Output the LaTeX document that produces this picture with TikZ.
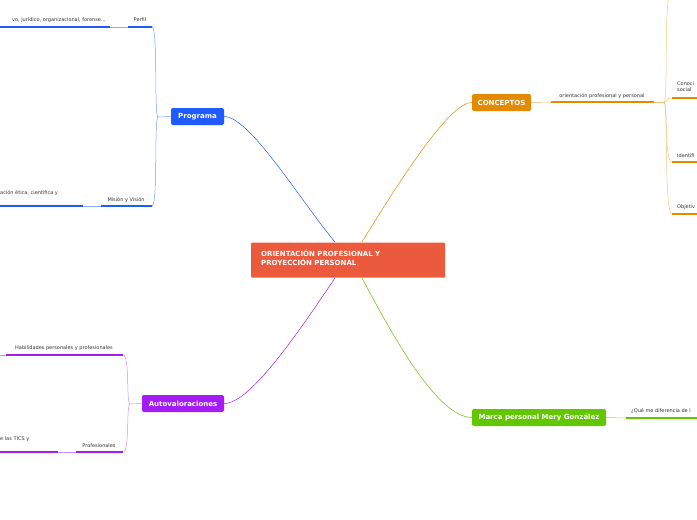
\documentclass[tikz,border=0pt]{standalone}
\usepackage{fontspec}
\setmainfont{DejaVu Sans}
\begin{document}
\begin{tikzpicture}[x=1pt,y=-1pt,
  main/.style={rounded corners=2pt,text=white,font=\bfseries\fontsize{7}{8}\selectfont,inner sep=0pt,drop shadow/.style={}},
  lbl/.style={font=\fontsize{5}{6}\selectfont,text=black!80,inner sep=0pt},
  thin/.style={line width=0.5pt},
  thick/.style={line width=2pt}]
\definecolor{cred}{HTML}{EC5A3D}
\definecolor{cblue}{HTML}{1F5BFF}
\definecolor{corange}{HTML}{E48A00}
\definecolor{cpurple}{HTML}{A41BF5}
\definecolor{cgreen}{HTML}{62C600}
\useasboundingbox (0,0) rectangle (697,520);
\clip (0,0) rectangle (697,520);
% central
\node[fill=cred,minimum width=194pt,minimum height=35pt,rounded corners=1pt,inner sep=0pt] (c) at (348,260) {};
\node[anchor=north west,align=left,text=white,font=\bfseries\fontsize{7}{9}\selectfont,inner sep=0pt] (ct) at (261,250) {ORIENTACIÓN PROFESIONAL Y\\PROYECCIÓN PERSONAL};
\coordinate (cul) at (335,242); \coordinate (cur) at (362,242);
\coordinate (cll) at (335,278); \coordinate (clr) at (362,278);
% main topics
\node[main,fill=cblue,minimum width=53pt,minimum height=17pt] (prog) at (197.5,116.5) {Programa};
\node[main,fill=corange,minimum width=59pt,minimum height=17pt] (conc) at (501.5,102.5) {CONCEPTOS};
\node[main,fill=cpurple,minimum width=82pt,minimum height=17pt] (auto) at (183,403.5) {Autovaloraciones};
\node[main,fill=cgreen,minimum width=134pt,minimum height=17pt] (marca) at (539,417.5) {Marca personal Mery González};
\draw[cblue,thin] (cul) .. controls (300,200) and (250,117) .. (prog.east);
\draw[corange,thin] (cur) .. controls (400,180) and (450,102) .. (conc.west);
\draw[cpurple,thin] (cll) .. controls (300,330) and (250,404) .. (auto.east);
\draw[cgreen,thin] (clr) .. controls (400,350) and (440,417) .. (marca.west);
% Programa branches
\coordinate (p1a) at (152,27); \coordinate (p1b) at (128,27); \coordinate (p1c) at (110,27); \coordinate (p1d) at (0,27);
\draw[cblue!60,thin] (prog.west) -- (158,117) .. controls (154,117) and (158,27) .. (p1a);
\draw[cblue,thick] (p1a) -- (p1b);
\draw[cblue!50,thin] (p1b) -- (p1c);
\draw[cblue,thick] (p1c) -- (p1d);
\node[lbl] (perfil) at (140,20) {Perfil};
\node[lbl,anchor=east] (perfilt) at (106,20) {vo, jurídico, organizacional, forense...};
\coordinate (p2a) at (152,206); \coordinate (p2b) at (101,206); \coordinate (p2c) at (83,206); \coordinate (p2d) at (0,206);
\draw[cblue!60,thin] (158,117) .. controls (154,117) and (158,206) .. (p2a);
\draw[cblue,thick] (p2a) -- (p2b);
\draw[cblue!50,thin] (p2b) -- (p2c);
\draw[cblue,thick] (p2c) -- (p2d);
\node[lbl] (mision) at (126,200) {Misión y Visión};
\node[lbl,anchor=west] (misiont) at (0,193) {ación ética, científica y};
% Conceptos branches
\coordinate (k1) at (551,102); \coordinate (k2) at (654,102);
\draw[corange!60,thin] (conc.east) -- (k1);
\draw[corange,thick] (k1) -- (k2);
\node[lbl] (orient) at (602,96) {orientación profesional y personal};
\coordinate (kf) at (664,102);
\draw[corange!50,thin] (k2) -- (kf);
\draw[corange!50,thin] (kf) .. controls (668,102) and (664,0) .. (670,-5);
\draw[corange!50,thin] (kf) .. controls (668,102) and (664,98) .. (672,98);
\draw[corange,thick] (672,98) -- (697,98);
\node[lbl,anchor=west,align=left,font=\fontsize{5}{6}\selectfont] (conoc) at (677,87) {Conoci\\social};
\draw[corange!50,thin] (kf) .. controls (668,102) and (664,162) .. (672,162);
\draw[corange,thick] (672,162) -- (697,162);
\node[lbl,anchor=west] (ident) at (677,156) {Identifi};
\draw[corange!50,thin] (kf) .. controls (668,102) and (664,214) .. (672,214);
\draw[corange,thick] (672,214) -- (697,214);
\node[lbl,anchor=west] (objet) at (677,207) {Objetiv};
% Autovaloraciones branches
\coordinate (a1a) at (123,355); \coordinate (a1b) at (6,355);
\draw[cpurple!50,thin] (auto.west) -- (130,404) .. controls (126,404) and (130,355) .. (a1a);
\draw[cpurple,thick] (a1a) -- (a1b);
\draw[cpurple!50,thin] (a1b) -- (0,355);
\node[lbl] (hab) at (64,348) {Habilidades personales y profesionales};
\coordinate (a2a) at (123,452); \coordinate (a2b) at (76,452); \coordinate (a2c) at (58,452);
\draw[cpurple!50,thin] (130,404) .. controls (126,404) and (130,452) .. (a2a);
\draw[cpurple,thick] (a2a) -- (a2b);
\draw[cpurple!50,thin] (a2b) -- (a2c);
\draw[cpurple,thick] (a2c) -- (0,452);
\node[lbl] (prof) at (99,446) {Profesionales};
\node[lbl,anchor=west] (tics) at (0,439) {e las TICS y};
% Marca branch
\coordinate (m1) at (626,418);
\draw[cgreen!60,thin] (marca.east) -- (m1);
\draw[cgreen,thick] (m1) -- (697,418);
\node[lbl,anchor=west] (dif) at (631,411) {¿Qué me diferencia de l};
\end{tikzpicture}
\end{document}
